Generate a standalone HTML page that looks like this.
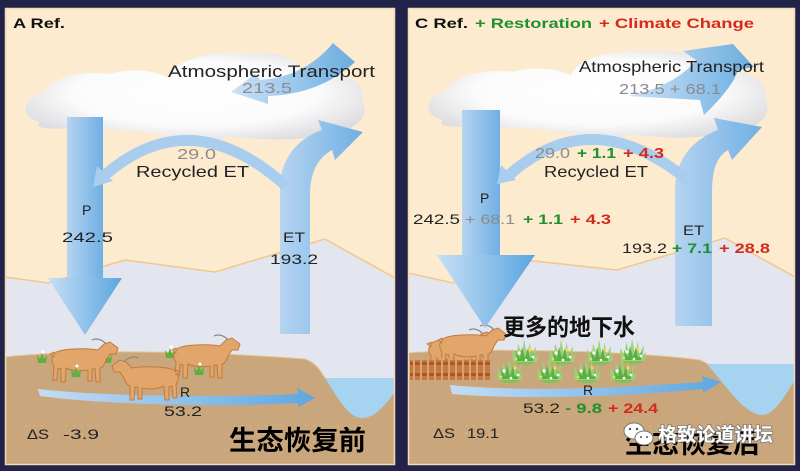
<!DOCTYPE html>
<html><head><meta charset="utf-8"><style>
html,body{margin:0;padding:0;background:#22234a;}
svg{display:block}
text{font-family:"Liberation Sans",Arial,sans-serif;}
.cjk{font-family:"Liberation Sans","Noto Sans CJK SC",sans-serif;font-weight:bold;}
</style></head><body>
<svg width="800" height="471" viewBox="0 0 800 471" xmlns="http://www.w3.org/2000/svg">
<defs>
 <linearGradient id="ah" x1="0" x2="1" y1="0" y2="0"><stop offset="0" stop-color="#c8dff5"/><stop offset="1" stop-color="#5aa6e0"/></linearGradient>
 <linearGradient id="col" x1="0" x2="1"><stop offset="0" stop-color="#b5d4f1"/><stop offset="1" stop-color="#70afe4"/></linearGradient>
 <linearGradient id="riv" x1="0" x2="1"><stop offset="0" stop-color="#c4ddf4"/><stop offset="1" stop-color="#5da7e0"/></linearGradient>
 <radialGradient id="cloud" cx="0.5" cy="0.45" r="0.6"><stop offset="0" stop-color="#fff"/><stop offset="0.6" stop-color="#fbfbfb"/><stop offset="1" stop-color="#d9d9dd"/></radialGradient>
 <pattern id="dots" width="8" height="8" patternUnits="userSpaceOnUse"><circle cx="2" cy="2" r="0.7" fill="#efdcbf" opacity="0.45"/></pattern>
 <clipPath id="cl"><rect x="5" y="8" width="390" height="457"/></clipPath>
 <clipPath id="cr"><rect x="408" y="8" width="387" height="457"/></clipPath>
 <path id="cloudshape" d="M40,122 C20,118 20,98 45,92 C50,78 80,70 110,74 C130,68 155,70 168,78 C175,58 215,50 255,54 C280,50 300,60 300,72 C340,68 368,82 362,100 C372,118 352,134 322,134 C300,142 255,140 225,136 C218,146 182,146 176,136 C140,130 90,128 68,128 C50,130 32,128 40,122 Z"/>
 <g id="goat">
  <path d="M6,12 C10,6 40,6 50,8 L56,2 L62,0 L70,6 L68,12 L62,12 L58,18 C56,24 54,26 52,26 L52,40 L48,40 L47,27 L44,27 L44,39 L40,39 L40,28 C30,30 22,28 18,26 L17,40 L13,40 L13,27 L10,26 L9,38 L5,38 L6,24 C3,20 3,16 6,12 Z" fill="#e2a66a" stroke="#c27a3c" stroke-width="1"/>
  <path d="M58,2 C54,-3 48,-4 44,-2" fill="none" stroke="#888" stroke-width="1.2"/>
  <path d="M2,12 L6,10 L6,15 Z" fill="#e2a66a" stroke="#c27a3c" stroke-width="0.8"/>
 </g>
 <g id="plant">
  <ellipse cx="0" cy="-4" rx="12" ry="6" fill="#7cc45a"/>
  <path d="M-12,-1 L-13,-14 L-8,-6 L-7,-20 L-3,-7 L-1,-24 L2,-7 L5,-21 L6,-7 L11,-17 L10,-5 L13,-10 L12,-1 Z" fill="#9ad27a"/>
  <path d="M-8,-2 L-9,-12 L-5,-5 L-3,-16 L0,-5 L3,-15 L5,-4 L9,-11 L8,-2 Z" fill="#5caf45"/>
  <circle cx="-6" cy="-10" r="1.6" fill="#fff"/><circle cx="5" cy="-13" r="1.6" fill="#f3dc4a"/><circle cx="8" cy="-6" r="1.4" fill="#fff"/><circle cx="-9" cy="-4" r="1.3" fill="#f3dc4a"/><circle cx="1" cy="-3" r="1.3" fill="#fff"/>
 </g>
 <g id="sprig">
  <path d="M-4,0 L-5,-8 L-2,-4 L0,-10 L2,-4 L5,-8 L4,0 Z" fill="#5cb040"/>
  <circle cx="1" cy="-11" r="1.5" fill="#fff"/>
 </g>
</defs>

<rect width="800" height="471" fill="#22234a"/>

<!-- LEFT PANEL -->
<g clip-path="url(#cl)">
 <rect x="5" y="8" width="390" height="457" fill="#fdebd0"/>
 <polygon points="5,277 48,283 125,260 215,272 325,239 395,278 395,465 5,465" fill="#e3e6ee"/>
 <polyline points="5,277 48,283 125,260 215,272 325,239 395,278" fill="none" stroke="#f2c78a" stroke-width="1.5"/>
 <path d="M5,357 C80,349 200,351 305,359 C316,363 320,370 325,378 L395,378 L395,465 L5,465 Z" fill="#c9a67b"/>
 <path d="M5,357 C80,349 200,351 305,359 C316,363 320,370 325,378" fill="none" stroke="#e6c48e" stroke-width="1"/>
 <path d="M325,378 L395,378 L395,392 C385,405 375,418 362,418 C348,418 338,398 325,378 Z" fill="#a6d3f0"/>
 <rect x="5" y="412" width="390" height="53" fill="url(#dots)"/>
 <path d="M38,389 C100,396 210,398 298,394 L297,388 L315,398 L298,407 L298,403 C210,408 100,404 40,396 Z" fill="url(#riv)"/>

 <use href="#sprig" transform="translate(42,363)"/>
 <use href="#sprig" transform="translate(107,363)"/>
 <use href="#sprig" transform="translate(170,358)"/>
 <use href="#goat" transform="translate(48,342)"/>
 <use href="#goat" transform="translate(170,338)"/>
 <use href="#goat" transform="translate(182,360) scale(-1,1)"/>
 <use href="#sprig" transform="translate(76,377)"/>
 <use href="#sprig" transform="translate(199,375)"/>

 <use href="#cloudshape" fill="url(#cloud)"/>

 <path d="M333,43 L355,62 C330,85 300,95 268,96 L268,104 L231,92 L255,74 L260,80 C290,78 315,65 333,43 Z" fill="url(#ah)" opacity="0.9"/>
 <rect x="67" y="117" width="36" height="161" fill="url(#col)"/>
 <polygon points="48,278 122,278 85,335" fill="url(#ah)"/>
 <path d="M280,334 L280,190 C280,160 295,140 322,130 L318,120 L363,132 L335,160 L332,150 C318,158 310,172 310,195 L310,334 Z" fill="url(#col)"/>
 <path d="M286,186 Q190,100 104,176" fill="none" stroke="#a9cdef" stroke-width="11"/>
 <polygon points="93,187 97,166 113,181" fill="#a9cdef"/>

 <text x="13" y="28" font-size="14" font-weight="bold" fill="#111" textLength="52" lengthAdjust="spacingAndGlyphs">A Ref.</text>
 <text x="168" y="77" font-size="17" fill="#222" textLength="207" lengthAdjust="spacingAndGlyphs">Atmospheric Transport</text>
 <text x="242" y="93" font-size="15" fill="#8c8c8c" textLength="50" lengthAdjust="spacingAndGlyphs">213.5</text>
 <text x="177" y="159" font-size="15" fill="#8c8c8c" textLength="39" lengthAdjust="spacingAndGlyphs">29.0</text>
 <text x="136" y="177" font-size="16" fill="#222" textLength="113" lengthAdjust="spacingAndGlyphs">Recycled ET</text>
 <text x="82" y="215" font-size="14" fill="#222">P</text>
 <text x="62" y="242" font-size="14" fill="#222" textLength="51" lengthAdjust="spacingAndGlyphs">242.5</text>
 <text x="283" y="242" font-size="14" fill="#222" textLength="22" lengthAdjust="spacingAndGlyphs">ET</text>
 <text x="270" y="264" font-size="14" fill="#222" textLength="48" lengthAdjust="spacingAndGlyphs">193.2</text>
 <text x="180" y="397" font-size="14" fill="#222">R</text>
 <text x="164" y="416" font-size="14" fill="#222" textLength="38" lengthAdjust="spacingAndGlyphs">53.2</text>
 <text x="27" y="439" font-size="14" fill="#222" textLength="22" lengthAdjust="spacingAndGlyphs">ΔS</text>
 <text x="63" y="439" font-size="14" fill="#222" textLength="36" lengthAdjust="spacingAndGlyphs">-3.9</text>
 <text class="cjk" x="229" y="450" font-size="27" fill="#000" textLength="137" lengthAdjust="spacingAndGlyphs">生态恢复前</text>
</g>
<rect x="5.5" y="8.5" width="389" height="456" fill="none" stroke="#f6dab0" stroke-width="1.5"/>

<!-- RIGHT PANEL -->
<g clip-path="url(#cr)">
 <rect x="408" y="8" width="387" height="457" fill="#fdebd0"/>
 <polygon points="408,273 453,283 525,260 617,270 725,238 795,277 795,465 408,465" fill="#e3e6ee"/>
 <polyline points="408,273 453,283 525,260 617,270 725,238 795,277" fill="none" stroke="#f2c78a" stroke-width="1.5"/>
 <path d="M408,353 C480,348 620,350 700,360 C704,362 706,363 708,364 L795,364 L795,465 L408,465 Z" fill="#c9a67b"/>
 <path d="M408,353 C480,348 620,350 700,360 C704,362 706,363 708,364" fill="none" stroke="#e6c48e" stroke-width="1"/>
 <path d="M707,364 L795,364 L795,380 C785,395 775,415 762,415 C745,415 725,385 707,364 Z" fill="#a6d3f0"/>
 <rect x="408" y="412" width="387" height="53" fill="url(#dots)"/>
 <path d="M450,385 C520,392 620,388 703,382 L702,376 L721,382 L703,393 L703,389 C620,397 520,400 452,394 Z" fill="url(#riv)"/>

 <use href="#goat" transform="translate(425,332)"/>
 <use href="#goat" transform="translate(436,328)"/>
 <g>
  <rect x="410" y="360" width="80" height="20" fill="#c47a42"/>
  <rect x="410" y="362" width="80" height="3" fill="#a35a28"/>
  <rect x="410" y="373" width="80" height="3" fill="#a35a28"/>
  <path d="M414,358 v22 M421,358 v22 M428,358 v22 M435,358 v22 M442,358 v22 M449,358 v22 M456,358 v22 M463,358 v22 M470,358 v22 M477,358 v22 M484,358 v22" stroke="#e0a06a" stroke-width="2"/>
 </g>
 <use href="#plant" transform="translate(525,363)"/>
 <use href="#plant" transform="translate(562,363)"/>
 <use href="#plant" transform="translate(600,363)"/>
 <use href="#plant" transform="translate(633,362)"/>
 <use href="#plant" transform="translate(510,381)"/>
 <use href="#plant" transform="translate(550,381)"/>
 <use href="#plant" transform="translate(587,381)"/>
 <use href="#plant" transform="translate(623,381)"/>

 <use href="#cloudshape" fill="url(#cloud)" transform="translate(403,-2)"/>

 <path d="M628,96 L700,100 L704,115 C725,95 735,80 738,70 L754,67 L733,44 L683,51 L696,60 C685,75 660,90 628,96 Z" fill="url(#ah)" opacity="0.9"/>
 <rect x="462" y="110" width="38" height="145" fill="url(#col)"/>
 <polygon points="437,255 535,255 485,328" fill="url(#ah)"/>
 <path d="M675,326 L675,190 C675,160 692,140 718,130 L714,118 L762,127 L732,160 L728,150 C715,158 712,172 712,195 L712,326 Z" fill="url(#col)"/>
 <path d="M690,182 Q592,100 508,176" fill="none" stroke="#a9cdef" stroke-width="11"/>
 <polygon points="497,184 501,165 516,180" fill="#a9cdef"/>

 <text x="415" y="28" font-size="14" font-weight="bold" fill="#111" textLength="53" lengthAdjust="spacingAndGlyphs">C Ref.</text>
 <text x="475" y="28" font-size="14" font-weight="bold" fill="#1f8f2f" textLength="117" lengthAdjust="spacingAndGlyphs">+ Restoration</text>
 <text x="599" y="28" font-size="14" font-weight="bold" fill="#d42a1e" textLength="155" lengthAdjust="spacingAndGlyphs">+ Climate Change</text>

 <text x="579" y="72" font-size="16" fill="#222" textLength="185" lengthAdjust="spacingAndGlyphs">Atmospheric Transport</text>
 <text x="619" y="94" font-size="15" fill="#8c8c8c" textLength="102" lengthAdjust="spacingAndGlyphs">213.5 + 68.1</text>

 <text x="535" y="158" font-size="15" fill="#8c8c8c" textLength="35" lengthAdjust="spacingAndGlyphs">29.0</text>
 <text x="577" y="158" font-size="15" font-weight="bold" fill="#1f8f2f" textLength="39" lengthAdjust="spacingAndGlyphs">+ 1.1</text>
 <text x="623" y="158" font-size="15" font-weight="bold" fill="#d42a1e" textLength="41" lengthAdjust="spacingAndGlyphs">+ 4.3</text>
 <text x="544" y="177" font-size="16" fill="#222" textLength="104" lengthAdjust="spacingAndGlyphs">Recycled ET</text>

 <text x="480" y="203" font-size="14" fill="#222">P</text>
 <text x="413" y="224" font-size="14" fill="#222" textLength="47" lengthAdjust="spacingAndGlyphs">242.5</text>
 <text x="465" y="224" font-size="14" fill="#8c8c8c" textLength="50" lengthAdjust="spacingAndGlyphs">+ 68.1</text>
 <text x="523" y="224" font-size="14" font-weight="bold" fill="#1f8f2f" textLength="40" lengthAdjust="spacingAndGlyphs">+ 1.1</text>
 <text x="570" y="224" font-size="14" font-weight="bold" fill="#d42a1e" textLength="41" lengthAdjust="spacingAndGlyphs">+ 4.3</text>

 <text x="683" y="235" font-size="14" fill="#222" textLength="21" lengthAdjust="spacingAndGlyphs">ET</text>
 <text x="622" y="253" font-size="14" fill="#222" textLength="45" lengthAdjust="spacingAndGlyphs">193.2</text>
 <text x="672" y="253" font-size="14" font-weight="bold" fill="#1f8f2f" textLength="40" lengthAdjust="spacingAndGlyphs">+ 7.1</text>
 <text x="719" y="253" font-size="14" font-weight="bold" fill="#d42a1e" textLength="51" lengthAdjust="spacingAndGlyphs">+ 28.8</text>

 <text class="cjk" x="503" y="335" font-size="23" fill="#111" textLength="132" lengthAdjust="spacingAndGlyphs">更多的地下水</text>

 <text x="583" y="395" font-size="14" fill="#222">R</text>
 <text x="523" y="413" font-size="14" fill="#222" textLength="37" lengthAdjust="spacingAndGlyphs">53.2</text>
 <text x="565" y="413" font-size="14" font-weight="bold" fill="#1f8f2f" textLength="37" lengthAdjust="spacingAndGlyphs">- 9.8</text>
 <text x="608" y="413" font-size="14" font-weight="bold" fill="#d42a1e" textLength="50" lengthAdjust="spacingAndGlyphs">+ 24.4</text>

 <text x="433" y="438" font-size="14" fill="#222" textLength="22" lengthAdjust="spacingAndGlyphs">ΔS</text>
 <text x="467" y="438" font-size="14" fill="#222" textLength="32" lengthAdjust="spacingAndGlyphs">19.1</text>

 <text class="cjk" x="625" y="453" font-size="27" fill="#000" textLength="135" lengthAdjust="spacingAndGlyphs">生态恢复后</text>
 <ellipse cx="634" cy="431" rx="10" ry="8" fill="#fff" stroke="#777" stroke-width="1"/>
 <ellipse cx="644" cy="438" rx="9" ry="7" fill="#fff" stroke="#777" stroke-width="1"/>
 <circle cx="630" cy="429" r="1.2" fill="#555"/><circle cx="637" cy="429" r="1.2" fill="#555"/>
 <circle cx="641" cy="437" r="1" fill="#555"/><circle cx="647" cy="437" r="1" fill="#555"/>
 <text class="cjk" x="658" y="441" font-size="19" font-weight="normal" fill="#fff" stroke="#777" stroke-width="1.5" paint-order="stroke" textLength="115" lengthAdjust="spacingAndGlyphs">格致论道讲坛</text>
</g>
<rect x="408.5" y="8.5" width="386" height="456" fill="none" stroke="#f6dab0" stroke-width="1.5"/>
</svg>
</body></html>
